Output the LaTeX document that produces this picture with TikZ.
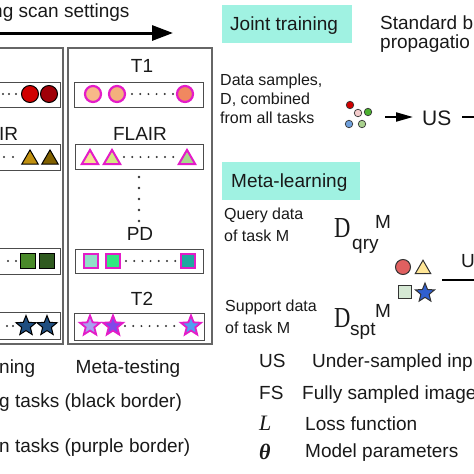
\documentclass[tikz,border=0pt]{standalone}
\usepackage{fontspec}
\setmainfont{Liberation Sans}
\newfontfamily\serifD{Liberation Serif}
\usetikzlibrary{shapes.geometric,arrows.meta}
\definecolor{mag}{RGB}{228,28,200}
\definecolor{cyanbox}{RGB}{160,242,226}
\definecolor{txtc}{RGB}{25,25,25}
\definecolor{ra}{RGB}{208,0,0}
\definecolor{rb}{RGB}{160,0,8}
\definecolor{ya}{RGB}{192,144,16}
\definecolor{yb}{RGB}{128,96,0}
\definecolor{ga}{RGB}{74,138,42}
\definecolor{gb}{RGB}{47,90,31}
\definecolor{sb}{RGB}{31,78,128}
\definecolor{pa}{RGB}{248,184,136}
\definecolor{pb}{RGB}{244,176,124}
\definecolor{pc}{RGB}{240,136,96}
\definecolor{fa}{RGB}{244,224,144}
\definecolor{fb}{RGB}{212,232,128}
\definecolor{fc}{RGB}{168,216,140}
\definecolor{qa}{RGB}{144,224,200}
\definecolor{qb}{RGB}{48,232,128}
\definecolor{qc}{RGB}{32,168,160}
\definecolor{ta}{RGB}{168,160,240}
\definecolor{tb}{RGB}{128,72,232}
\definecolor{tc}{RGB}{80,160,240}
\definecolor{cpink}{RGB}{244,204,204}
\definecolor{cgreen}{RGB}{76,176,48}
\definecolor{cblue}{RGB}{111,160,220}
\definecolor{clgreen}{RGB}{169,209,142}
\definecolor{kred}{RGB}{224,96,96}
\definecolor{kyel}{RGB}{255,230,150}
\definecolor{kgrn}{RGB}{213,232,212}
\definecolor{kblu}{RGB}{47,95,208}
\tikzset{
 t19/.style={font=\fontsize{19}{22}\selectfont, inner sep=0, text=txtc},
 t16/.style={font=\fontsize{16}{19}\selectfont, inner sep=0, text=txtc},
 rowbox/.style={draw=black!70, line width=0.9},
 panel/.style={draw=black!60, line width=1.1},
 mc/.style={circle, draw=mag, line width=2.2, minimum size=16, inner sep=0, fill=#1},
 mt/.style={regular polygon, regular polygon sides=3, draw=mag, line width=2, minimum size=19, inner sep=0, fill=#1},
 ms/.style={rectangle, draw=mag, line width=2, minimum size=14, inner sep=0, fill=#1},
 mst/.style={star, star points=5, star point ratio=2.3, draw=mag, line width=1.8, minimum size=21, inner sep=0, fill=#1},
 bc/.style={circle, draw=black, line width=1, minimum size=17, inner sep=0, fill=#1},
 bt/.style={regular polygon, regular polygon sides=3, draw=black, line width=1, minimum size=19, inner sep=0, fill=#1},
 bs/.style={rectangle, draw=black, line width=1, minimum size=15, inner sep=0, fill=#1},
 bst/.style={star, star points=5, star point ratio=2.3, draw=black, line width=1, minimum size=21, inner sep=0, fill=#1},
 sc/.style={circle, draw=black!80, line width=0.7, minimum size=7.5, inner sep=0, fill=#1},
}
\begin{document}
\begin{tikzpicture}[x=1pt,y=-1pt]
\useasboundingbox (0,0) rectangle (474,474);
% top arrow
\node[t19, anchor=base west] (scan) at (-8,17) {ng scan settings};
\coordinate (a1) at (-5,33);
\coordinate (a2) at (173,33);
\draw[line width=3, -{Triangle[length=21,width=15]}] (a1) -- (a2);
% panels
\draw[panel] (-5,48) rectangle (63,344);
\draw[panel] (68,48) rectangle (212,344);
% left panel rows
\draw[rowbox] (-5,82) rectangle (60,107);
\draw[rowbox] (-5,144) rectangle (60,170);
\draw[rowbox] (-5,248) rectangle (60,274);
\draw[rowbox] (-5,312) rectangle (60,339);
\node[t19, anchor=base west] (lflair) at (-1.2,140) {IR};
\foreach \x in {3,9,16} \fill[black!80] (\x,94) circle (1.1);
\node[bc=ra] (l1a) at (30,94) {};
\node[bc=rb] (l1b) at (49,94) {};
\foreach \x in {4,13} \fill[black!80] (\x,157) circle (1.1);
\node[bt=ya] (l2a) at (30,159.4) {};
\node[bt=yb] (l2b) at (50,159.4) {};
\foreach \x in {8,16} \fill[black!80] (\x,261) circle (1.1);
\node[bs=ga] (l3a) at (28,261) {};
\node[bs=gb] (l3b) at (47,261) {};
\foreach \x in {7,13} \fill[black!80] (\x,326) circle (1.1);
\node[bst=sb] (l4a) at (26,326) {};
\node[bst=sb] (l4b) at (47,326) {};
% middle panel
\node[t19, anchor=base] (lt1) at (142,72) {T1};
\draw[rowbox] (74,82) rectangle (203,107);
\node[mc=pa] (m1a) at (93,94) {};
\node[mc=pb] (m1b) at (117,94) {};
\node[mc=pc] (m1c) at (185,94) {};
\foreach \i in {0,...,5} \fill[black!80] (132+\i*8.2,94) circle (1.1);
\node[t19, anchor=base] (lfl) at (140,140) {FLAIR};
\draw[rowbox] (75,144) rectangle (203,169);
\node[mt=fa] (m2a) at (90,159.4) {};
\node[mt=fb] (m2b) at (112,159.4) {};
\node[mt=fc] (m2c) at (187,159.4) {};
\foreach \i in {0,...,6} \fill[black!80] (124+\i*8.2,157) circle (1.1);
\foreach \i in {0,...,4} \fill[black!80] (139,177+\i*11) circle (1.3);
\node[t19, anchor=base] (lpd) at (140,240) {PD};
\draw[rowbox] (75,249) rectangle (203,273);
\node[ms=qa] (m3a) at (91,261) {};
\node[ms=qb] (m3b) at (113,261) {};
\node[ms=qc] (m3c) at (188,261) {};
\foreach \i in {0,...,6} \fill[black!80] (126+\i*8.2,261) circle (1.1);
\node[t19, anchor=base] (lt2) at (142,305) {T2};
\draw[rowbox] (74,313) rectangle (204,340);
\node[mst=ta] (m4a) at (90,326) {};
\node[mst=tb] (m4b) at (113,326) {};
\node[mst=tc] (m4c) at (191,326) {};
\foreach \i in {0,...,6} \fill[black!80] (125+\i*8.2,326) circle (1.1);
% panel labels
\node[t19, anchor=base west] (ltrain) at (-1,373) {ning};
\node[t19, anchor=base] (ltest) at (128,373) {Meta-testing};
\node[t19, anchor=base west] (lg1) at (-1,407) {g tasks (black border)};
\node[t19, anchor=base west] (lg2) at (-1,452) {n tasks (purple border)};
% joint training
\fill[cyanbox] (222,5) rectangle (352,43);
\node[t19, anchor=base west] (jt) at (230,30) {Joint training};
\node[t19, anchor=base west] (std1) at (380,29) {Standard b};
\node[t19, anchor=base west] (std2) at (380,48) {propagatio};
\node[t16, anchor=base west] (ds1) at (220,85) {Data samples,};
\node[t16, anchor=base west] (ds2) at (220,104) {D, combined};
\node[t16, anchor=base west] (ds3) at (220,123) {from all tasks};
\node[sc=ra] (c1) at (350,105) {};
\node[sc=cpink] (c2) at (358,113) {};
\node[sc=cgreen] (c3) at (368,112) {};
\node[sc=cblue] (c4) at (349,124) {};
\node[sc=clgreen] (c5) at (362,124) {};
\coordinate (ja) at (385,117);
\coordinate (jt1) at (413,117);
\node[font=\fontsize{21}{24}\selectfont, inner sep=0, text=txtc, anchor=base west] (us) at (422,125) {US};
\draw[line width=2, -{Triangle[length=17,width=9]}] (ja) -- (jt1);
\coordinate (jc) at (462,117);
\coordinate (jb) at (476,117);
\draw[line width=2] (jc) -- (jb);
% meta-learning
\fill[cyanbox] (222,162) rectangle (360,200);
\node[t19, anchor=base west] (ml) at (231,187) {Meta-learning};
\node[t16, anchor=base west] (q1) at (224,219) {Query data};
\node[t16, anchor=base west] (q2) at (224,241) {of task M};
\node[font=\serifD\fontsize{29}{32}\selectfont, inner sep=0, text=txtc, anchor=base west] (dq) at (334,237) {\scalebox{0.78}[1]{D}};
\node[t19, anchor=base west] (dqs) at (352,249) {qry};
\node[t19, anchor=base west] (dqm) at (375,228) {M};
\node[t16, anchor=base west] (s1) at (225,311) {Support data};
\node[t16, anchor=base west] (s2) at (225,333) {of task M};
\node[font=\serifD\fontsize{29}{32}\selectfont, inner sep=0, text=txtc, anchor=base west] (dsp) at (334,327) {\scalebox{0.78}[1]{D}};
\node[t19, anchor=base west] (dss) at (350,335) {spt};
\node[t19, anchor=base west] (dsm) at (375,317) {M};
\node[circle, draw=black!80, line width=1, minimum size=15, inner sep=0, fill=kred] (k1) at (403,267) {};
\node[regular polygon, regular polygon sides=3, draw=black!80, line width=1, minimum size=18, inner sep=0, fill=kyel] (k2) at (423,269.2) {};
\node[rectangle, draw=black!80, line width=1, minimum size=13, inner sep=0, fill=kgrn] (k3) at (405,292) {};
\node[star, star points=5, star point ratio=2.3, draw=black!80, line width=1, minimum size=20, inner sep=0, fill=kblu] (k4) at (425,293) {};
\node[t19, anchor=base west] (mu) at (461,267) {U};
\coordinate (ka) at (442,280);
\coordinate (kb) at (476,280);
\draw[line width=2] (ka) -- (kb);
% legend
\node[t19, anchor=base west] (gus) at (259,367) {US};
\node[t19, anchor=base west] (gusd) at (312,367) {Under-sampled inp};
\node[t19, anchor=base west] (gfs) at (259,399) {FS};
\node[t19, anchor=base west] (gfsd) at (302,399) {Fully sampled image};
\node[font=\serifD\itshape\fontsize{22}{24}\selectfont, inner sep=0, text=txtc, anchor=base west] (gl) at (259,430) {L};
\node[t19, anchor=base west] (gld) at (305,430) {Loss function};
\node[font=\serifD\bfseries\itshape\fontsize{22}{24}\selectfont, inner sep=0, text=txtc, anchor=base west] (gth) at (259,459) {θ};
\node[t19, anchor=base west] (gthd) at (305,457) {Model parameters};
\end{tikzpicture}
\end{document}
